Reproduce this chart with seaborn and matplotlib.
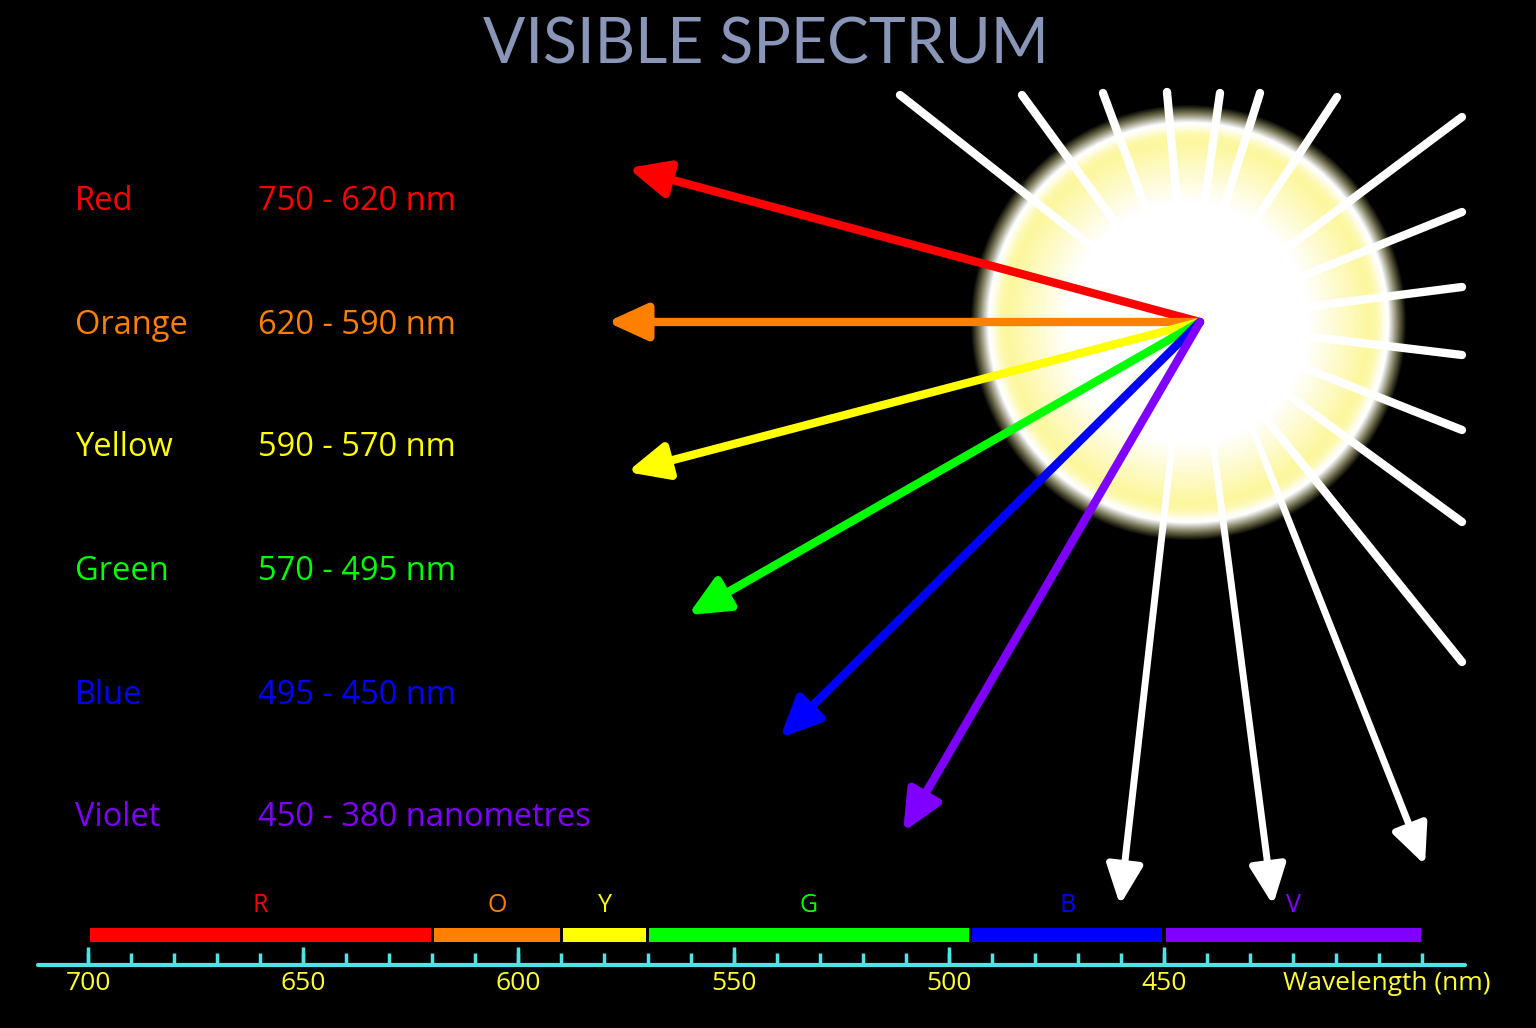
import numpy as np
import matplotlib
matplotlib.use("Agg")
import matplotlib.pyplot as plt
import seaborn as sns

# ---- data ----
color_names = ["Red", "Orange", "Yellow", "Green", "Blue", "Violet"]
range_labels = ["750 - 620 nm", "620 - 590 nm", "590 - 570 nm",
                "570 - 495 nm", "495 - 450 nm", "450 - 380 nanometres"]
hex_colors = ["#ff0000", "#ff8000", "#ffff00", "#00ff00", "#0000ff", "#8000ff"]
band_letters = ["R", "O", "Y", "G", "B", "V"]
band_start = [700, 620, 590, 570, 495, 450]
band_end = [620, 590, 570, 495, 450, 390]
tick_major = [700, 650, 600, 550, 500, 450]
# arrow tips of the dispersed beams (pixel coords)
beam_tip_x = [628, 607, 627, 688, 780, 903]
beam_tip_y = [168, 322, 472, 615, 738, 832]
# white rays (end points; they start inside the sun)
ray_x1 = [900, 1022, 1103, 1167, 1220, 1260, 1337, 1462, 1462, 1462, 1462, 1462, 1462, 1462]
ray_y1 = [95, 95, 93, 92, 93, 93, 97, 117, 212, 287, 355, 430, 522, 662]
white_arrow_x0 = [1175, 1210, 1245]
white_arrow_y0 = [420, 420, 410]
white_arrow_x1 = [1120, 1273, 1425]
white_arrow_y1 = [905, 905, 865]

W, H = 1536, 1028
origin = (1200, 322)
sun_c = (1188, 322)

sns.set_style("dark", {"axes.facecolor": "black", "figure.facecolor": "black"})
plt.rcParams["font.family"] = ["Open Sans", "DejaVu Sans"]

fig = plt.figure(figsize=(W / 100, H / 100), dpi=100)
ax = fig.add_axes([0, 0, 1, 1])
ax.set_xlim(0, W)
ax.set_ylim(H, 0)
ax.axis("off")

# sun glow
yy, xx = np.mgrid[0:H:1, 0:W:1]
rr = np.hypot(xx - sun_c[0], yy - sun_c[1])
t = np.clip((rr - 120) / 60, 0, 1)
img = np.zeros((H, W, 4))
yel = np.array([0.99, 0.97, 0.62])
rgb = (1 - t)[..., None] * np.ones(3) + t[..., None] * yel
rim = np.exp(-((rr - 200) / 9) ** 2)
rgb = rgb * (1 - rim[..., None]) + rim[..., None]
img[..., :3] = rgb
img[..., 3] = np.clip((218 - rr) / 18, 0, 1)
ax.imshow(img, extent=[0, W, H, 0], zorder=1, interpolation="bilinear")

# white rays
for x1, y1 in zip(ray_x1, ray_y1):
    ang = np.arctan2(y1 - sun_c[1], x1 - sun_c[0])
    x0 = sun_c[0] + 100 * np.cos(ang)
    y0 = sun_c[1] + 100 * np.sin(ang)
    ax.plot([x0, x1], [y0, y1], color="white", lw=6, solid_capstyle="round", zorder=2)

for x0, y0, x1, y1 in zip(white_arrow_x0, white_arrow_y0, white_arrow_x1, white_arrow_y1):
    ax.annotate("", xy=(x1, y1), xytext=(x0, y0), zorder=2,
                arrowprops=dict(arrowstyle="-|>,head_length=2.4,head_width=1.1",
                                color="white", lw=5, shrinkA=0, shrinkB=0))

# colour beams
for tx, ty, c in zip(beam_tip_x, beam_tip_y, hex_colors):
    ax.annotate("", xy=(tx, ty), xytext=origin, zorder=3,
                arrowprops=dict(arrowstyle="-|>,head_length=2.4,head_width=1.1",
                                color=c, lw=6, shrinkA=0, shrinkB=0))

# labels
label_y = [202, 325, 448, 572, 695, 818]
for name, rng, c, y in zip(color_names, range_labels, hex_colors, label_y):
    ax.text(75, y, name, color=c, fontsize=23.5, va="center", ha="left")
    ax.text(258, y, rng, color=c, fontsize=23.5, va="center", ha="left")

ax.text(766, 45, "VISIBLE SPECTRUM", color="#8a96b8", fontsize=45,
        ha="center", va="center", family=["Lato", "DejaVu Sans"])

# wavelength scale axes (x in nm)
px_per_nm = (1164 - 88) / 250
ax2 = fig.add_axes([0, 0, 1, 1])
ax2.set_xlim(700 + 88 / px_per_nm, 700 + 88 / px_per_nm - W / px_per_nm)
ax2.set_ylim(H, 0)
ax2.axis("off")
ax2.patch.set_alpha(0)

for s, e, c, letter in zip(band_start, band_end, hex_colors, band_letters):
    ax2.barh(935, s - e - 0.7, left=e + 0.35, height=14, color=c, linewidth=0)
    ax2.text((s + e) / 2, 905, letter, color=c, fontsize=18, ha="center", va="center")

ax2.plot([700 + 50 / px_per_nm, 700 - (1465 - 88) / px_per_nm], [965, 965],
         color="#4fe3e3", lw=3)
minor = np.arange(700, 389, -10)
ax2.vlines(minor, 953, 965, color="#4fe3e3", lw=2.5)
ax2.vlines(tick_major, 947, 965, color="#4fe3e3", lw=2.5)
for m in tick_major:
    ax2.text(m, 983, str(m), color="#ffff33", fontsize=19, ha="center", va="center")
ax2.text(1387, 983, "Wavelength (nm)", color="#ffff33", fontsize=19, ha="center",
         va="center", transform=ax.transData)

fig.savefig("out.png", dpi=100, facecolor="black")
